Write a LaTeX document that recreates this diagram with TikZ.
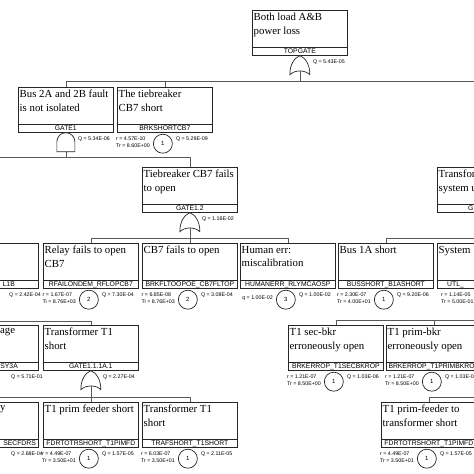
\documentclass[tikz,border=0pt]{standalone}
\usepackage{fontspec}
\setmainfont{Liberation Serif}
\newfontfamily\labfont{Liberation Sans}
\tikzset{
 fbox/.style={draw=black!85, line width=0.7pt, rectangle, minimum width=95pt, minimum height=45pt, inner sep=0pt, fill=white},
 bandline/.style={draw=black!85, line width=0.6pt},
 ttl/.style={font=\fontsize{10.8}{13.5}\selectfont, align=left, inner sep=0pt, anchor=north west},
 lbl/.style={font=\labfont\fontsize{6.8}{7}\selectfont, inner sep=0pt},
 tiny/.style={font=\labfont\fontsize{5.3}{7}\selectfont, inner sep=0pt},
 conn/.style={draw=black!65, line width=0.7pt},
 gatestyle/.style={draw=black!85, line width=0.7pt, fill=white},
 evc/.style={circle, draw=black!85, line width=0.7pt, fill=white, minimum size=19pt, inner sep=0pt, font=\labfont\fontsize{6}{7}\selectfont},
 orgate/.pic={\path[gatestyle] (0,0) .. controls (5,2) and (10,8) .. (10,19) .. controls (5,14) and (-5,14) .. (-10,19) .. controls (-10,8) and (-5,2) .. (0,0) -- cycle;},
 andgate/.pic={\path[gatestyle] (-9,19) -- (-9,9) arc[start angle=180, end angle=0, radius=9pt] -- (9,19) -- cycle;}
}
% box: id, left, top, title, label
\newcommand{\FTbox}[5]{%
 \node[fbox,anchor=north west] (#1) at (#2,#3) {};
 \draw[bandline] ([yshift=8.5pt]#1.south west) -- ([yshift=8.5pt]#1.south east);
 \node[ttl] (#1t) at ([xshift=1.5pt,yshift=-3pt]#1.north west) {#4};
 \node[lbl] (#1l) at ([yshift=4.25pt]#1.south) {#5};
}
% leaf: id, box, number, r text, Q text
\newcommand{\FTleaf}[5]{%
 \node[evc] (#1c) at ([xshift=-2pt,yshift=-11pt]#2.south) {#3};
 \node[tiny,anchor=east,align=left] (#1r) at ([xshift=-3pt,yshift=1.5pt]#1c.west) {#4};
 \node[tiny,anchor=west] (#1q) at ([xshift=11pt,yshift=-6pt]#2.south) {#5};
}
\begin{document}
\begin{tikzpicture}[x=1pt,y=-1pt]
\useasboundingbox (0,0) rectangle (474,474);
\fill[white] (0,0) rectangle (474,474);
% level coordinates
\coordinate (h1) at (0,81);
\coordinate (h2) at (0,157);
\coordinate (h3) at (0,238);
\coordinate (h4) at (0,321);
\coordinate (h4r) at (0,320);
\coordinate (h5) at (0,397);
\coordinate (edgeL) at (-5,0);
\coordinate (edgeR) at (480,0);

% ---------- boxes ----------
\FTbox{top}{252}{10}{Both load A\&B\\power loss}{TOPGATE}
\FTbox{gA}{18}{87}{Bus 2A and 2B fault\\is not isolated}{GATE1}
\FTbox{brk}{117}{87}{The tiebreaker\\CB7 short}{BRKSHORTCB7}
\FTbox{tb}{142}{167}{Tiebreaker CB7 fails\\to open}{GATE1.2}
\FTbox{trR}{437}{167}{Transfor\\system u}{}
\FTbox{lA}{-57}{243}{}{}
\FTbox{relay}{43}{243}{Relay fails to open\\CB7}{RFAILONDEM\_RFLOPCB7}
\FTbox{cbs}{142}{243}{CB7 fails to open}{BRKFLTOOPOE\_CB7FLTOP}
\FTbox{hum}{240}{243}{Human err:\\miscalibration}{HUMANERR\_RLYMCAOSP}
\FTbox{bus}{338}{243}{Bus 1A short}{BUSSHORT\_B1ASHORT}
\FTbox{sys}{437}{243}{System}{}
\FTbox{lB}{-57}{325}{}{}
\FTbox{tt}{43}{325}{Transformer T1\\short}{GATE1.1.1A.1}
\FTbox{sec}{288}{325}{T1 sec-bkr\\erroneously open}{BRKERROP\_T1SECBKROP}
\FTbox{prim}{386}{325}{T1 prim-bkr\\erroneously open}{BRKERROP\_T1PRIMBKROP}
\FTbox{lC}{-57}{402}{}{}
\FTbox{pf}{43}{402}{T1 prim feeder short}{FDRTOTRSHORT\_T1PIMFD}
\FTbox{trf}{142}{402}{Transformer T1\\short}{TRAFSHORT\_T1SHORT}
\FTbox{pft}{381}{402}{T1 prim-feeder to\\transformer short}{FDRTOTRSHORT\_T1PIMFD}

% partial texts of cut boxes
\node[ttl] (lBt) at (0,328) {age};
\node[ttl] (lCt) at (0,405) {y};
\node[lbl,anchor=east] (lAl) at ([yshift=4.25pt]lA.south east -| 15,0) {L1B};
\node[lbl,anchor=east] (lBl) at ([yshift=4.25pt]lB.south east -| 18,0) {SY3A};
\node[lbl,anchor=east] (lCl) at ([yshift=4.25pt]lC.south east -| 36,0) {SECFDRS};
\node[lbl,anchor=west] (trRl) at ([yshift=4.25pt]trR.south west -| 468,0) {G};
\node[lbl,anchor=west] (sysl) at ([yshift=4.25pt]sys.south west -| 447,0) {UTL\_};
\node[tiny,anchor=west] (lAq) at ([yshift=-6pt]lA.south east -| 9,0) {Q = 2.42E-04};
\node[tiny,anchor=west] (lBq) at ([yshift=-6pt]lB.south east -| 11,0) {Q = 5.71E-01};
\node[tiny,anchor=west] (lCq) at ([yshift=-6pt]lC.south east -| 11,0) {Q = 2.68E-04};
\node[tiny,anchor=west,align=left] (sysr) at ([yshift=-9.5pt]sys.south west -| 441,0) {r = 1.14E-05\\Tr = 5.00E-01};

% ---------- connectors ----------
\coordinate (topg) at ([yshift=-15.5pt]top.south);
\coordinate (gAg) at ([yshift=-19pt]gA.south);
\coordinate (tbg) at ([yshift=-15.5pt]tb.south);
\coordinate (ttg) at ([yshift=-15.5pt]tt.south);
\draw[conn] (topg) -- (topg |- h1);
\draw[conn] (gA.north) -- (gA.north |- h1) -- (edgeR |- h1);
\draw[conn] (brk.north) -- (brk.north |- h1);
\draw[conn] (gAg) -- (gAg |- h2);
\draw[conn] (edgeL |- h2) -- (tb.north |- h2) -- (tb.north);
\draw[conn] (tbg) -- (tbg |- h3);
\draw[conn] (relay.north) -- (relay.north |- h3) -- (hum.north |- h3) -- (hum.north);
\draw[conn] (cbs.north) -- (cbs.north |- h3);
\draw[conn] (bus.north) -- (bus.north |- h3) -- (edgeR |- h3);
\draw[conn] (edgeL |- h4) -- (tt.north |- h4) -- (tt.north);
\draw[conn] (sec.north) -- (sec.north |- h4r) -- (edgeR |- h4r);
\draw[conn] (prim.north) -- (prim.north |- h4r);
\draw[conn] (ttg) -- (ttg |- h5);
\draw[conn] (edgeL |- h5) -- (trf.north |- h5) -- (trf.north);
\draw[conn] (pf.north) -- (pf.north |- h5);
\draw[conn] (pft.north) -- (pft.north |- h5) -- (edgeR |- h5);

% ---------- gates ----------
\pic at (top.south) {orgate};
\pic at (gA.south) {andgate};
\pic at (tb.south) {orgate};
\pic at (tt.south) {orgate};
\node[tiny,anchor=west] (topq) at ([xshift=13pt,yshift=-6pt]top.south) {Q = 5.43E-05};
\node[tiny,anchor=west] (gAq) at ([xshift=12pt,yshift=-6pt]gA.south) {Q = 5.34E-06};
\node[tiny,anchor=west] (tbq) at ([xshift=12pt,yshift=-6pt]tb.south) {Q = 1.16E-02};
\node[tiny,anchor=west] (ttq) at ([xshift=12pt,yshift=-6pt]tt.south) {Q = 2.27E-04};

% ---------- basic events ----------
\FTleaf{brk}{brk}{1}{r = 4.57E-10\\Tr = 8.60E+00}{Q = 5.29E-09}
\FTleaf{relay}{relay}{2}{r = 1.67E-07\\Ti = 8.76E+03}{Q = 7.30E-04}
\FTleaf{cbs}{cbs}{2}{r = 6.85E-08\\Ti = 8.76E+03}{Q = 3.08E-04}
\FTleaf{hum}{hum}{3}{q = 1.00E-02}{Q = 1.00E-02}
\FTleaf{bus}{bus}{1}{r = 2.30E-07\\Tr = 4.00E+01}{Q = 9.20E-06}
\FTleaf{sec}{sec}{1}{r = 1.21E-07\\Tr = 8.50E+00}{Q = 1.03E-06}
\FTleaf{prim}{prim}{1}{r = 1.21E-07\\Tr = 8.50E+00}{Q = 1.03E-06}
\FTleaf{pf}{pf}{1}{r = 4.49E-07\\Tr = 3.50E+01}{Q = 1.57E-05}
\FTleaf{trf}{trf}{1}{r = 6.03E-07\\Tr = 3.50E+01}{Q = 2.11E-05}
\FTleaf{pft}{pft}{1}{r = 4.49E-07\\Tr = 3.50E+01}{Q = 1.57E-05}
\end{tikzpicture}
\end{document}
